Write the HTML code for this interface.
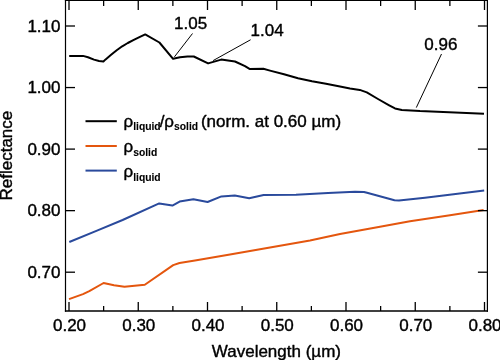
<!DOCTYPE html>
<html><head><meta charset="utf-8"><style>
html,body{margin:0;padding:0;background:#fff;}
svg{display:block;}
.sub{font-size:10.3px;font-weight:bold;stroke-width:0.1px;}
text{font-family:"Liberation Sans",Arial,sans-serif;font-size:17px;fill:#000;stroke:#000;stroke-width:0.4px;stroke-linejoin:round;}
</style></head><body>
<svg width="500" height="360" viewBox="0 0 500 360">
<rect width="500" height="360" fill="#fff"/>
<g fill="none" stroke-linejoin="round" stroke-linecap="butt">
<polyline points="69.0,299.1 83.0,294.1 89.3,291.2 103.6,283.0 114.0,285.2 124.5,286.8 144.8,284.7 173.2,265.1 179.5,263.0 195.0,260.6 230.0,254.5 270.0,247.5 310.0,240.5 340.0,234.0 380.0,226.8 410.0,221.3 450.0,215.2 483.6,210.1" stroke="#e4560e" stroke-width="2"/>
<polyline points="69.3,242.0 97.0,230.6 122.6,220.0 159.2,203.4 172.4,205.6 179.6,201.6 193.4,199.2 207.6,202.0 221.4,196.4 234.8,195.6 249.2,198.2 263.6,195.0 296.0,194.8 328.0,192.9 355.0,191.8 364.0,192.0 367.0,192.8 394.5,200.3 399.0,200.6 425.0,197.7 484.2,190.5" stroke="#2a4a9c" stroke-width="2"/>
<polyline points="69.2,55.9 83.0,55.9 88.0,57.2 94.0,59.6 99.0,61.0 103.4,61.5 105.6,59.4 111.1,54.8 116.7,50.3 122.2,46.3 127.8,43.0 133.3,40.2 138.9,37.4 145.2,34.4 159.4,42.5 173.1,58.8 180.0,57.2 187.5,56.5 193.8,56.5 208.1,63.4 221.2,59.6 235.0,61.5 245.0,66.2 249.5,68.9 263.4,68.8 270.0,70.6 284.0,74.2 298.0,78.3 312.0,81.2 326.0,83.7 340.0,86.6 350.0,88.6 359.8,89.9 366.8,92.4 378.0,99.0 389.2,105.3 395.0,108.4 401.8,109.9 420.0,111.1 484.0,113.7" stroke="#000" stroke-width="2"/>
</g>
<g stroke="#000" stroke-width="1">
<line x1="174.4" y1="56.9" x2="192.5" y2="33.5"/>
<line x1="213.1" y1="60.6" x2="250.6" y2="39.75"/>
<line x1="416.3" y1="107.6" x2="441.5" y2="54"/>
</g>
<g stroke="#000" stroke-width="1.3">
<line x1="69.00" y1="311.0" x2="69.00" y2="302.0"/><line x1="69.00" y1="0.5" x2="69.00" y2="10.0"/><line x1="138.25" y1="311.0" x2="138.25" y2="302.0"/><line x1="138.25" y1="0.5" x2="138.25" y2="10.0"/><line x1="207.50" y1="311.0" x2="207.50" y2="302.0"/><line x1="207.50" y1="0.5" x2="207.50" y2="10.0"/><line x1="276.75" y1="311.0" x2="276.75" y2="302.0"/><line x1="276.75" y1="0.5" x2="276.75" y2="10.0"/><line x1="346.00" y1="311.0" x2="346.00" y2="302.0"/><line x1="346.00" y1="0.5" x2="346.00" y2="10.0"/><line x1="415.25" y1="311.0" x2="415.25" y2="302.0"/><line x1="415.25" y1="0.5" x2="415.25" y2="10.0"/><line x1="484.50" y1="311.0" x2="484.50" y2="302.0"/><line x1="484.50" y1="0.5" x2="484.50" y2="10.0"/><line x1="103.62" y1="311.0" x2="103.62" y2="306.0"/><line x1="103.62" y1="0.5" x2="103.62" y2="6.0"/><line x1="172.87" y1="311.0" x2="172.87" y2="306.0"/><line x1="172.87" y1="0.5" x2="172.87" y2="6.0"/><line x1="242.12" y1="311.0" x2="242.12" y2="306.0"/><line x1="242.12" y1="0.5" x2="242.12" y2="6.0"/><line x1="311.38" y1="311.0" x2="311.38" y2="306.0"/><line x1="311.38" y1="0.5" x2="311.38" y2="6.0"/><line x1="380.62" y1="311.0" x2="380.62" y2="306.0"/><line x1="380.62" y1="0.5" x2="380.62" y2="6.0"/><line x1="449.88" y1="311.0" x2="449.88" y2="306.0"/><line x1="449.88" y1="0.5" x2="449.88" y2="6.0"/><line x1="65.5" y1="272.20" x2="75.0" y2="272.20"/><line x1="487.4" y1="272.20" x2="477.9" y2="272.20"/><line x1="65.5" y1="210.65" x2="75.0" y2="210.65"/><line x1="487.4" y1="210.65" x2="477.9" y2="210.65"/><line x1="65.5" y1="149.10" x2="75.0" y2="149.10"/><line x1="487.4" y1="149.10" x2="477.9" y2="149.10"/><line x1="65.5" y1="87.55" x2="75.0" y2="87.55"/><line x1="487.4" y1="87.55" x2="477.9" y2="87.55"/><line x1="65.5" y1="26.00" x2="75.0" y2="26.00"/><line x1="487.4" y1="26.00" x2="477.9" y2="26.00"/>
</g>
<g stroke="#000" fill="none">
<line x1="65.5" y1="0" x2="65.5" y2="311.7" stroke-width="1.2"/>
<line x1="487.4" y1="0" x2="487.4" y2="311.7" stroke-width="1.2"/>
<line x1="64.9" y1="0.5" x2="488" y2="0.5" stroke-width="1.2"/>
<line x1="64.9" y1="311" x2="488" y2="311" stroke-width="1.4"/>
</g>
<text x="174" y="29.2">1.05</text>
<text x="250.5" y="35.9">1.04</text>
<text x="424.3" y="50.1">0.96</text>
<text x="69.50" y="331.2" text-anchor="middle">0.20</text><text x="138.75" y="331.2" text-anchor="middle">0.30</text><text x="208.00" y="331.2" text-anchor="middle">0.40</text><text x="277.25" y="331.2" text-anchor="middle">0.50</text><text x="346.50" y="331.2" text-anchor="middle">0.60</text><text x="415.75" y="331.2" text-anchor="middle">0.70</text><text x="485.00" y="331.2" text-anchor="middle">0.80</text>
<text x="60.5" y="277.90" text-anchor="end">0.70</text><text x="60.5" y="216.35" text-anchor="end">0.80</text><text x="60.5" y="154.80" text-anchor="end">0.90</text><text x="60.5" y="93.25" text-anchor="end">1.00</text><text x="60.5" y="31.70" text-anchor="end">1.10</text>
<text x="276.4" y="356.6" text-anchor="middle">Wavelength (µm)</text>
<text transform="translate(12.4,155.6) rotate(-90)" text-anchor="middle" font-size="16.6">Reflectance</text>
<g stroke-width="2">
<line x1="85.5" y1="121.2" x2="116.8" y2="121.2" stroke="#000"/>
<line x1="85.5" y1="146" x2="116.8" y2="146" stroke="#e4560e"/>
<line x1="85.5" y1="170.6" x2="116.8" y2="170.6" stroke="#2a4a9c"/>
</g>
<text x="123.5" y="126.6">ρ<tspan class="sub" dy="3.8">liquid</tspan><tspan dy="-3.8" dx="-1">/ρ</tspan><tspan class="sub" dy="3.8">solid </tspan><tspan dy="-3.8">(norm. at 0.60 µm)</tspan></text>
<text x="123.5" y="152">ρ<tspan class="sub" dy="3.8">solid</tspan></text>
<text x="123.5" y="177">ρ<tspan class="sub" dy="3.8">liquid</tspan></text>
</svg>
</body></html>
